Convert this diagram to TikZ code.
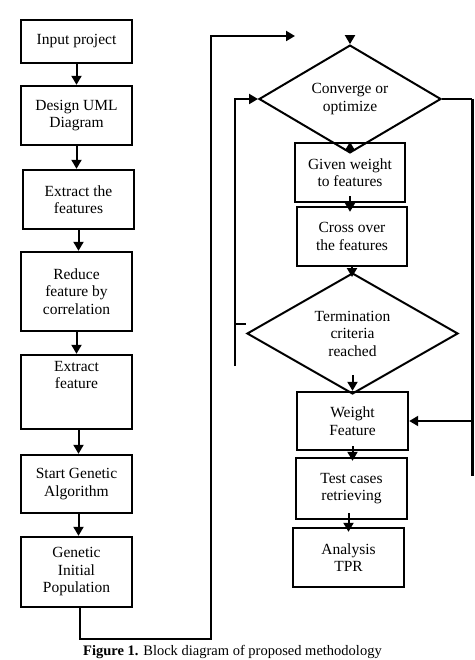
\documentclass[tikz,border=0pt]{standalone}
\usepackage{fontspec}
\setmainfont{Liberation Serif}
\usetikzlibrary{shapes.geometric,arrows.meta}
\tikzset{
  box/.style={draw, line width=2.4pt, rectangle, inner sep=0pt, align=center, font=\fontsize{15.5}{17.5}\selectfont},
  txt/.style={inner sep=0pt, align=center, font=\fontsize{15.5}{17.5}\selectfont},
  dia/.style={draw, line width=2pt, diamond, inner sep=0pt, align=center, font=\fontsize{15.5}{17.5}\selectfont},
  ln/.style={line width=2pt},
  arr/.style={line width=2pt, -{Triangle[length=9pt,width=10pt]}},
}
\begin{document}
\begin{tikzpicture}[x=1pt,y=-1pt]
\useasboundingbox (0,0) rectangle (474,660);
\clip (0,0) rectangle (474,660);
\fill[white] (0,0) rectangle (474,660);
% left column
\node[box, minimum width=111, minimum height=43] (b1) at (76.5,41.5) {Input project};
\node[box, minimum width=111, minimum height=59] (b2) at (76.5,115.5) {Design UML\\Diagram};
\node[box, minimum width=111, minimum height=59] (b3) at (78.5,199.5) {Extract the\\features};
\node[box, minimum width=111, minimum height=79] (b4) at (76.5,291.5) {Reduce\\feature by\\correlation};
\node[box, minimum width=111, minimum height=74] (b5) at (76.5,392) {};
\node[txt, anchor=north] (b5t) at ([yshift=-7pt]b5.north) {Extract\\feature};
\node[box, minimum width=111, minimum height=58] (b6) at (76.5,484) {Start Genetic\\Algorithm};
\node[box, minimum width=111, minimum height=70] (b7) at (76.5,572) {Genetic\\Initial\\Population};
\draw[arr] (b1.south) -- (b2.north);
\draw[arr] (b2.south) -- (b2.south |- b3.north);
\draw[arr] (b3.south) -- (b3.south |- b4.north);
\draw[arr] (b4.south) -- (b5.north);
\draw[arr] ([xshift=2pt]b5.south) -- ([xshift=2pt]b6.north);
\draw[arr] ([xshift=2pt]b6.south) -- ([xshift=2pt]b7.north);
\coordinate (c1) at (211,639);
\coordinate (c2) at (295,36);
\draw[arr] ([xshift=3pt]b7.south) |- (c1) |- (c2);
% right column
\coordinate (t0) at (350,43);
\node[dia, minimum width=182, minimum height=82] (d1) at (350,99) {Converge or\\optimize};
\node[box, minimum width=110, minimum height=59] (gw) at (350,172.5) {Given weight\\to features};
\node[box, minimum width=110, minimum height=59] (co) at (352,236.5) {Cross over\\the features};
\node[dia, minimum width=211, minimum height=117] (d2) at (352.5,333.5) {Termination\\criteria\\reached};
\node[box, minimum width=111, minimum height=58] (wf) at (352.5,421) {Weight\\Feature};
\node[box, minimum width=111, minimum height=61] (tc) at (351.5,488.5) {Test cases\\retrieving};
\node[box, minimum width=111, minimum height=59] (an) at (348.5,557.5) {Analysis\\TPR};
\draw[arr] (t0) -- (d1.north);
\draw[arr] ([yshift=12pt]d1.south) -- (gw.north);
\draw[arr] ([yshift=7pt]gw.south) -- ([yshift=-6pt]gw.south |- co.north);
\draw[arr] (co.south) -- ([yshift=-5pt]co.south |- d2.north);
\draw[arr] ([yshift=20pt]d2.south) -- (d2.south |- wf.north);
\draw[arr] ([yshift=5pt]wf.south) -- ([yshift=-4pt]wf.south |- tc.north);
\draw[arr] ([yshift=7pt]an.north |- tc.south) -- ([yshift=-5pt]an.north);
% feedback left
\coordinate (l1) at (235,366);
\coordinate (l2) at (235,324);
\draw[arr] (l1) |- (d1.west);
\draw[ln] (l2) -- (l2 -| d2.west);
% feedback right
\coordinate (r1) at (472,99);
\coordinate (r2) at (472,476);
\draw[ln] (d1.east) -- (r1);
\draw[line width=3pt] (r1) -- (r2);
\draw[arr] (r1 |- wf.east) -- (wf.east);
% caption
\node[anchor=base west, inner sep=0pt, font=\fontsize{14.5}{17}\selectfont] (cap) at (83,655) {\textbf{Figure 1.} Block diagram of proposed methodology};
\end{tikzpicture}
\end{document}
